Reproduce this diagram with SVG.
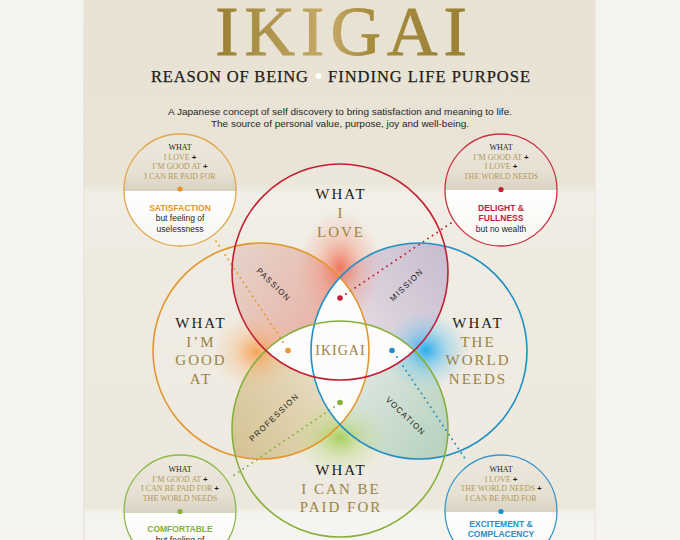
<svg xmlns="http://www.w3.org/2000/svg" width="680" height="540" viewBox="0 0 680 540">
<defs>
<style>
.serif{font-family:"Liberation Serif","DejaVu Serif",serif}
.sans{font-family:"Liberation Sans","DejaVu Sans",sans-serif}
.big{font-family:"Liberation Serif","DejaVu Serif",serif;font-size:15px;letter-spacing:2px;text-anchor:middle}
.blk{fill:#1d1d1b}
.gold{fill:#9a8446}
.pair{font-family:"Liberation Sans","DejaVu Sans",sans-serif;font-size:8px;letter-spacing:1.3px;fill:#1d1d1b;text-anchor:middle}
.cw{font-family:"Liberation Serif","DejaVu Serif",serif;font-size:8px;text-anchor:middle;fill:#262626}
.cg{font-family:"Liberation Serif","DejaVu Serif",serif;font-size:8px;text-anchor:middle;fill:#b09859}
.plus{fill:#1d1d1b;font-weight:bold;font-family:"Liberation Sans","DejaVu Sans",sans-serif}
.cb{font-family:"Liberation Sans","DejaVu Sans",sans-serif;font-size:8.5px;font-weight:bold;text-anchor:middle}
.cs{font-family:"Liberation Sans","DejaVu Sans",sans-serif;font-size:8.5px;text-anchor:middle;fill:#262626}
.ring{fill:none;stroke-width:1.6}
.cring{fill:none;stroke-width:1.3}
.dots{fill:none;stroke-width:2;stroke-linecap:round;stroke-dasharray:0 5.5}
</style>
<linearGradient id="poster" x1="0" y1="0" x2="0" y2="1">
<stop offset="0" stop-color="#e8e2d3"/>
<stop offset="0.34" stop-color="#e9e4d6"/>
<stop offset="0.36" stop-color="#f1eee6"/>
<stop offset="0.5" stop-color="#eeeae0"/>
<stop offset="0.94" stop-color="#ece8dd"/>
<stop offset="0.95" stop-color="#f5f3ee"/>
<stop offset="1" stop-color="#f6f4ef"/>
</linearGradient>
<linearGradient id="goldT" x1="215" y1="0" x2="467" y2="0" gradientUnits="userSpaceOnUse">
<stop offset="0" stop-color="#9a7f33"/>
<stop offset="0.45" stop-color="#c6ab68"/>
<stop offset="0.6" stop-color="#a88c40"/>
<stop offset="1" stop-color="#9b8035"/>
</linearGradient>
<clipPath id="cR"><circle cx="340" cy="272" r="108"/></clipPath>
<clipPath id="cO"><circle cx="261" cy="351" r="108"/></clipPath>
<clipPath id="cB"><circle cx="419" cy="351" r="108"/></clipPath>
<clipPath id="cG"><circle cx="340" cy="429" r="108"/></clipPath>
<linearGradient id="gPas" x1="235" y1="246" x2="350" y2="330" gradientUnits="userSpaceOnUse">
<stop offset="0" stop-color="#e5d3c9"/><stop offset="0.6" stop-color="#e8bdb3"/><stop offset="1" stop-color="#eaa99c"/>
</linearGradient>
<linearGradient id="gMis" x1="445" y1="246" x2="330" y2="330" gradientUnits="userSpaceOnUse">
<stop offset="0" stop-color="#c8bccf"/><stop offset="0.6" stop-color="#dbd1dc"/><stop offset="1" stop-color="#ebe2e4"/>
</linearGradient>
<linearGradient id="gPro" x1="235" y1="455" x2="350" y2="372" gradientUnits="userSpaceOnUse">
<stop offset="0" stop-color="#d5c394"/><stop offset="0.6" stop-color="#e1d4b3"/><stop offset="1" stop-color="#ece4d2"/>
</linearGradient>
<linearGradient id="gVoc" x1="445" y1="455" x2="330" y2="372" gradientUnits="userSpaceOnUse">
<stop offset="0" stop-color="#b6d2bd"/><stop offset="0.6" stop-color="#d2e0d6"/><stop offset="1" stop-color="#e5ebe8"/>
</linearGradient>
<radialGradient id="glowR"><stop offset="0" stop-color="#ef6a50" stop-opacity="0.9"/><stop offset="0.5" stop-color="#f28a70" stop-opacity="0.35"/><stop offset="1" stop-color="#f5a090" stop-opacity="0"/></radialGradient>
<radialGradient id="glowO"><stop offset="0" stop-color="#f7983e" stop-opacity="0.85"/><stop offset="0.5" stop-color="#f8b070" stop-opacity="0.35"/><stop offset="1" stop-color="#f8c090" stop-opacity="0"/></radialGradient>
<radialGradient id="glowB"><stop offset="0" stop-color="#20a8ee" stop-opacity="0.95"/><stop offset="0.5" stop-color="#5cc0f0" stop-opacity="0.4"/><stop offset="1" stop-color="#90d0f0" stop-opacity="0"/></radialGradient>
<radialGradient id="glowG"><stop offset="0" stop-color="#9ccc48" stop-opacity="0.85"/><stop offset="0.5" stop-color="#b8d878" stop-opacity="0.35"/><stop offset="1" stop-color="#c8e098" stop-opacity="0"/></radialGradient>
<linearGradient id="cTop" x1="0" y1="0" x2="0" y2="1">
<stop offset="0" stop-color="#ede8de"/><stop offset="0.7" stop-color="#e6e0d2"/><stop offset="1" stop-color="#d9d2c1"/>
</linearGradient>
<linearGradient id="cBot" x1="0" y1="0" x2="0" y2="1">
<stop offset="0" stop-color="#ffffff"/><stop offset="1" stop-color="#f7f5f0"/>
</linearGradient>
<clipPath id="ccTL"><circle cx="180" cy="190" r="56"/></clipPath>
<clipPath id="ccTR"><circle cx="501" cy="190" r="56"/></clipPath>
<clipPath id="ccBL"><circle cx="180" cy="511" r="56"/></clipPath>
<clipPath id="ccBR"><circle cx="501" cy="511" r="56"/></clipPath>
</defs>

<rect width="680" height="540" fill="#f4f3f0"/>
<rect x="84" y="0" width="511" height="540" fill="url(#poster)"/>
<line x1="84" y1="0" x2="84" y2="540" stroke="#e2dfd8" stroke-width="1"/>
<line x1="595" y1="0" x2="595" y2="540" stroke="#e6e3dc" stroke-width="1"/>

<g id="title">
<text x="344" y="55" class="serif" font-size="70" letter-spacing="6" text-anchor="middle" fill="url(#goldT)" stroke="url(#goldT)" stroke-width="0.9">IKIGAI</text>
<text x="151" y="82" class="serif" font-size="16.5" fill="#1d1d1b" stroke="#1d1d1b" stroke-width="0.25" textLength="157" lengthAdjust="spacing">REASON OF BEING</text>
<circle cx="318.5" cy="76" r="3" fill="#ffffff"/>
<text x="328" y="82" class="serif" font-size="16.5" fill="#1d1d1b" stroke="#1d1d1b" stroke-width="0.25" textLength="202" lengthAdjust="spacing">FINDING LIFE PURPOSE</text>
<text x="168" y="114.5" class="sans" font-size="9.5" fill="#262626" textLength="344" lengthAdjust="spacingAndGlyphs">A Japanese concept of self discovery to bring satisfaction and meaning to life.</text>
<text x="211" y="126.5" class="sans" font-size="9.5" fill="#262626" textLength="258" lengthAdjust="spacingAndGlyphs">The source of personal value, purpose, joy and well-being.</text>
</g>

<g id="venn-fills">
<circle cx="340" cy="272" r="108" fill="#ffffff" fill-opacity="0.12"/>
<circle cx="261" cy="351" r="108" fill="#ffffff" fill-opacity="0.12"/>
<circle cx="419" cy="351" r="108" fill="#ffffff" fill-opacity="0.12"/>
<circle cx="340" cy="429" r="108" fill="#ffffff" fill-opacity="0.12"/>
<g clip-path="url(#cR)"><circle cx="261" cy="351" r="108" fill="url(#gPas)"/></g>
<g clip-path="url(#cR)"><circle cx="419" cy="351" r="108" fill="url(#gMis)"/></g>
<g clip-path="url(#cG)"><circle cx="261" cy="351" r="108" fill="url(#gPro)"/></g>
<g clip-path="url(#cG)"><circle cx="419" cy="351" r="108" fill="url(#gVoc)"/></g>
<ellipse cx="340" cy="268" rx="42" ry="58" fill="url(#glowR)"/>
<ellipse cx="256" cy="352" rx="44" ry="40" fill="url(#glowO)"/>
<ellipse cx="426" cy="350" rx="44" ry="40" fill="url(#glowB)"/>
<ellipse cx="340" cy="438" rx="50" ry="40" fill="url(#glowG)"/>
<g clip-path="url(#cR)"><circle cx="340" cy="429" r="108" fill="#fdfcfa"/></g>
<g clip-path="url(#cO)"><circle cx="419" cy="351" r="108" fill="#fdfcfa"/></g>
</g>

<g id="connectors">
<line class="dots" x1="283" y1="342" x2="214" y2="238" stroke="#e39a2d"/>
<line class="dots" x1="346" y1="294" x2="451" y2="223" stroke="#c21f32"/>
<line class="dots" x1="397" y1="357" x2="466" y2="460" stroke="#1f8fc4"/>
<line class="dots" x1="334" y1="407" x2="230" y2="478" stroke="#86b03c"/>
</g>

<g id="good-at">
<circle class="ring" cx="261" cy="351" r="108" stroke="#e3962a"/>
<text class="big blk" x="201" y="328">WHAT</text>
<text class="big gold" x="201" y="347">I’M</text>
<text class="big gold" x="201" y="365">GOOD</text>
<text class="big gold" x="201" y="383.5">AT</text>
</g>
<g id="world-needs">
<circle class="ring" cx="419" cy="351" r="108" stroke="#1f8fc4"/>
<text class="big blk" x="478" y="328">WHAT</text>
<text class="big gold" x="478" y="347">THE</text>
<text class="big gold" x="478" y="365">WORLD</text>
<text class="big gold" x="478" y="383.5">NEEDS</text>
</g>
<g id="paid-for">
<circle class="ring" cx="340" cy="429" r="108" stroke="#86b03c"/>
<text class="big blk" x="341" y="474.5">WHAT</text>
<text class="big gold" x="341" y="493.5">I CAN BE</text>
<text class="big gold" x="341" y="512">PAID FOR</text>
</g>
<g id="love">
<circle class="ring" cx="340" cy="272" r="108" stroke="#c21f32"/>
<text class="big blk" x="341" y="199">WHAT</text>
<text class="big gold" x="341" y="218">I</text>
<text class="big gold" x="341" y="236.5">LOVE</text>
</g>

<g id="ikigai">
<text x="340.5" y="355" class="serif" font-size="14" letter-spacing="1" text-anchor="middle" fill="#9a8446">IKIGAI</text>
<circle cx="340" cy="298" r="2.8" fill="#c21f32"/>
<circle cx="288" cy="350.5" r="2.8" fill="#e3962a"/>
<circle cx="392" cy="350.5" r="2.8" fill="#1f8fc4"/>
<circle cx="340" cy="402.5" r="2.8" fill="#86b03c"/>
</g>

<g id="pair-labels">
<text class="pair" transform="translate(273.5,284) rotate(44)" x="0.6" y="3">PASSION</text>
<text class="pair" transform="translate(406,285) rotate(-44)" x="0.6" y="3">MISSION</text>
<text class="pair" transform="translate(273.5,417.5) rotate(-44)" x="0.6" y="3">PROFESSION</text>
<text class="pair" transform="translate(405.5,415.5) rotate(44)" x="0.6" y="3">VOCATION</text>
</g>

<g id="satisfaction">
<g clip-path="url(#ccTL)">
<rect x="124" y="134" width="112" height="57" fill="url(#cTop)"/>
<rect x="124" y="191" width="112" height="56" fill="url(#cBot)"/>
</g>
<circle class="cring" cx="180" cy="190" r="56" stroke="#e2a548"/>
<text class="cw" x="180" y="150">WHAT</text>
<text class="cg" x="180" y="159.5">I LOVE <tspan class="plus">+</tspan></text>
<text class="cg" x="180" y="169">I’M GOOD AT <tspan class="plus">+</tspan></text>
<text class="cg" x="180" y="178.5">I CAN BE PAID FOR</text>
<circle cx="180" cy="189" r="2.6" fill="#e3962a"/>
<text class="cb" x="180" y="210.5" fill="#e8952a">SATISFACTION</text>
<text class="cs" x="180" y="221">but feeling of</text>
<text class="cs" x="180" y="231.5">uselessness</text>
</g>

<g id="delight">
<g clip-path="url(#ccTR)">
<rect x="445" y="134" width="112" height="56" fill="url(#cTop)"/>
<rect x="445" y="190" width="112" height="57" fill="url(#cBot)"/>
</g>
<circle class="cring" cx="501" cy="190" r="56" stroke="#c9323f"/>
<text class="cw" x="501" y="150">WHAT</text>
<text class="cg" x="501" y="159.5">I’M GOOD AT <tspan class="plus">+</tspan></text>
<text class="cg" x="501" y="169">I LOVE <tspan class="plus">+</tspan></text>
<text class="cg" x="501" y="178.5">THE WORLD NEEDS</text>
<circle cx="501" cy="189.5" r="2.6" fill="#c21f32"/>
<text class="cb" x="501" y="210.5" fill="#c0233a">DELIGHT &amp;</text>
<text class="cb" x="501" y="221" fill="#c0233a">FULLNESS</text>
<text class="cs" x="501" y="231.5">but no wealth</text>
</g>

<g id="comfortable">
<g clip-path="url(#ccBL)">
<rect x="124" y="455" width="112" height="58" fill="url(#cTop)"/>
<rect x="124" y="513" width="112" height="55" fill="url(#cBot)"/>
</g>
<circle class="cring" cx="180" cy="511" r="56" stroke="#8db84a"/>
<text class="cw" x="180" y="472">WHAT</text>
<text class="cg" x="180" y="481.5">I’M GOOD AT <tspan class="plus">+</tspan></text>
<text class="cg" x="180" y="491">I CAN BE PAID FOR <tspan class="plus">+</tspan></text>
<text class="cg" x="180" y="500.5">THE WORLD NEEDS</text>
<circle cx="180" cy="511.5" r="2.6" fill="#86b03c"/>
<text class="cb" x="180" y="531.5" fill="#86b03c">COMFORTABLE</text>
<text class="cs" x="180" y="542.5">but feeling of</text>
</g>

<g id="excitement">
<g clip-path="url(#ccBR)">
<rect x="445" y="455" width="112" height="57" fill="url(#cTop)"/>
<rect x="445" y="512" width="112" height="56" fill="url(#cBot)"/>
</g>
<circle class="cring" cx="501" cy="511" r="56" stroke="#3a97c9"/>
<text class="cw" x="501" y="472">WHAT</text>
<text class="cg" x="501" y="481.5">I LOVE <tspan class="plus">+</tspan></text>
<text class="cg" x="501" y="491">THE WORLD NEEDS <tspan class="plus">+</tspan></text>
<text class="cg" x="501" y="500.5">I CAN BE PAID FOR</text>
<circle cx="501" cy="511.5" r="2.6" fill="#1f8fc4"/>
<text class="cb" x="501" y="526.5" fill="#2a8dc5">EXCITEMENT &amp;</text>
<text class="cb" x="501" y="537" fill="#2a8dc5">COMPLACENCY</text>
</g>
</svg>
